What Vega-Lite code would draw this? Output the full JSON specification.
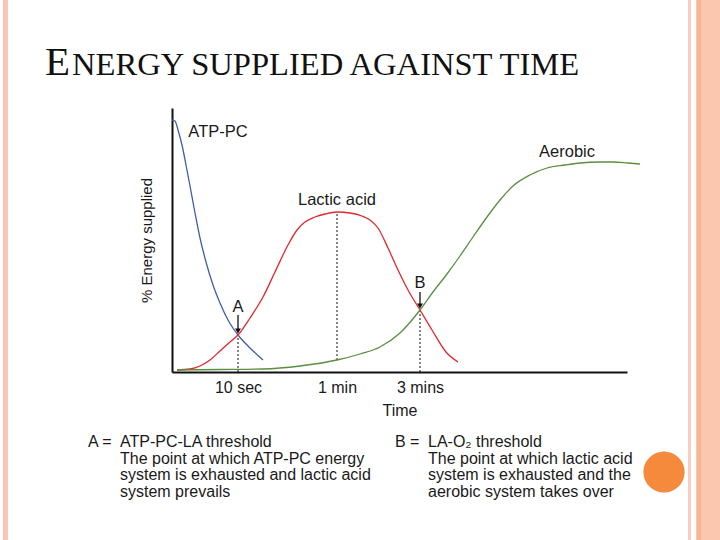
{
  "$schema": "https://vega.github.io/schema/vega-lite/v6.json",
  "description": "Energy supplied against time by the three energy systems.",
  "width": 455,
  "height": 264,
  "autosize": {"type": "none"},
  "padding": {"left": 172, "top": 108, "right": 93, "bottom": 168},
  "background": "white",
  "encoding": {
    "x": {
      "field": "x",
      "type": "quantitative",
      "scale": {"domain": [0, 455], "nice": false, "zero": false},
      "title": "Time",
      "axis": {
        "values": [66, 165, 248],
        "labelExpr": "datum.value == 66 ? '10 sec' : datum.value == 165 ? '1 min' : '3 mins'",
        "labelPadding": 7,
        "titlePadding": 7
      }
    },
    "y": {
      "field": "y",
      "type": "quantitative",
      "scale": {"domain": [0, 264], "nice": false, "zero": false},
      "title": "% Energy supplied",
      "axis": {"labels": false, "titlePadding": 18, "titleFontSize": 15}
    }
  },
  "layer": [
    {
      "data": {"values": [{"x": -169, "x2": -164, "y": -168, "y2": 372}]},
      "mark": {"type": "rect", "color": "#f7c6b8"},
      "encoding": {"x2": {"field": "x2"}, "y2": {"field": "y2"}}
    },
    {
      "data": {"values": [{"x": 516, "x2": 519, "y": -168, "y2": 372}]},
      "mark": {"type": "rect", "color": "#f9cdc0"},
      "encoding": {"x2": {"field": "x2"}, "y2": {"field": "y2"}}
    },
    {
      "data": {"values": [{"x": 524, "x2": 548, "y": -168, "y2": 372}]},
      "mark": {"type": "rect", "color": "#fbc7ae"},
      "encoding": {"x2": {"field": "x2"}, "y2": {"field": "y2"}}
    },
    {
      "data": {"values": [{"x": 525, "x2": 529, "y": -168, "y2": 372}]},
      "mark": {"type": "rect", "color": "#f6b595"},
      "encoding": {"x2": {"field": "x2"}, "y2": {"field": "y2"}}
    },
    {
      "data": {"values": [{"x": 492, "y": -100}]},
      "mark": {"type": "point", "shape": "circle", "filled": true, "size": 1700, "color": "#f58a3d", "opacity": 1}
    },
    {
      "data": {
        "values": [
          {"x": 66, "y": 0, "y2": 37},
          {"x": 165, "y": 12, "y2": 160},
          {"x": 248, "y": 0, "y2": 62}
        ]
      },
      "mark": {"type": "rule", "color": "#111", "strokeWidth": 1, "strokeDash": [2, 2]},
      "encoding": {"y2": {"field": "y2"}}
    },
    {
      "data": {
        "values": [
          {"series": "ATP-PC", "x": 0, "y": 252},
          {"series": "ATP-PC", "x": 3, "y": 251},
          {"series": "ATP-PC", "x": 6, "y": 242},
          {"series": "ATP-PC", "x": 10, "y": 227},
          {"series": "ATP-PC", "x": 14, "y": 207},
          {"series": "ATP-PC", "x": 18, "y": 186},
          {"series": "ATP-PC", "x": 23, "y": 159},
          {"series": "ATP-PC", "x": 28, "y": 134},
          {"series": "ATP-PC", "x": 34, "y": 110},
          {"series": "ATP-PC", "x": 41, "y": 87},
          {"series": "ATP-PC", "x": 48, "y": 69},
          {"series": "ATP-PC", "x": 56, "y": 52},
          {"series": "ATP-PC", "x": 66, "y": 37},
          {"series": "ATP-PC", "x": 78, "y": 24},
          {"series": "ATP-PC", "x": 91, "y": 12},
          {"series": "Lactic acid", "x": 5, "y": 2},
          {"series": "Lactic acid", "x": 18, "y": 3},
          {"series": "Lactic acid", "x": 28, "y": 6},
          {"series": "Lactic acid", "x": 38, "y": 12},
          {"series": "Lactic acid", "x": 48, "y": 21},
          {"series": "Lactic acid", "x": 58, "y": 30},
          {"series": "Lactic acid", "x": 66, "y": 37},
          {"series": "Lactic acid", "x": 78, "y": 54},
          {"series": "Lactic acid", "x": 91, "y": 75},
          {"series": "Lactic acid", "x": 103, "y": 100},
          {"series": "Lactic acid", "x": 116, "y": 127},
          {"series": "Lactic acid", "x": 125, "y": 142},
          {"series": "Lactic acid", "x": 133, "y": 150},
          {"series": "Lactic acid", "x": 143, "y": 155},
          {"series": "Lactic acid", "x": 153, "y": 158},
          {"series": "Lactic acid", "x": 165, "y": 160},
          {"series": "Lactic acid", "x": 178, "y": 159},
          {"series": "Lactic acid", "x": 190, "y": 156},
          {"series": "Lactic acid", "x": 198, "y": 152},
          {"series": "Lactic acid", "x": 206, "y": 144},
          {"series": "Lactic acid", "x": 216, "y": 124},
          {"series": "Lactic acid", "x": 226, "y": 102},
          {"series": "Lactic acid", "x": 236, "y": 82},
          {"series": "Lactic acid", "x": 248, "y": 62},
          {"series": "Lactic acid", "x": 260, "y": 42},
          {"series": "Lactic acid", "x": 274, "y": 20},
          {"series": "Lactic acid", "x": 286, "y": 10},
          {"series": "Aerobic", "x": 5, "y": 2},
          {"series": "Aerobic", "x": 48, "y": 2.5},
          {"series": "Aerobic", "x": 91, "y": 3},
          {"series": "Aerobic", "x": 128, "y": 6},
          {"series": "Aerobic", "x": 165, "y": 12},
          {"series": "Aerobic", "x": 188, "y": 18},
          {"series": "Aerobic", "x": 208, "y": 25},
          {"series": "Aerobic", "x": 228, "y": 39},
          {"series": "Aerobic", "x": 248, "y": 62},
          {"series": "Aerobic", "x": 261, "y": 80},
          {"series": "Aerobic", "x": 275, "y": 98},
          {"series": "Aerobic", "x": 288, "y": 116},
          {"series": "Aerobic", "x": 301, "y": 135},
          {"series": "Aerobic", "x": 315, "y": 155},
          {"series": "Aerobic", "x": 328, "y": 172},
          {"series": "Aerobic", "x": 341, "y": 186},
          {"series": "Aerobic", "x": 358, "y": 197},
          {"series": "Aerobic", "x": 375, "y": 204},
          {"series": "Aerobic", "x": 393, "y": 207},
          {"series": "Aerobic", "x": 408, "y": 209},
          {"series": "Aerobic", "x": 428, "y": 210},
          {"series": "Aerobic", "x": 441, "y": 210},
          {"series": "Aerobic", "x": 456, "y": 209},
          {"series": "Aerobic", "x": 468, "y": 208}
        ]
      },
      "mark": {"type": "line", "interpolate": "monotone", "strokeWidth": 1.3},
      "encoding": {
        "color": {
          "field": "series",
          "type": "nominal",
          "scale": {"domain": ["ATP-PC", "Lactic acid", "Aerobic"], "range": ["#3f5fa8", "#e0282e", "#5b8e3e"]},
          "legend": null
        }
      }
    },
    {
      "data": {"values": [{"x": 66, "y": 57, "y2": 42}, {"x": 248, "y": 80, "y2": 67}]},
      "mark": {"type": "rule", "color": "#111", "strokeWidth": 1.3},
      "encoding": {"y2": {"field": "y2"}}
    },
    {
      "data": {"values": [{"x": 66, "y": 41}, {"x": 248, "y": 66}]},
      "mark": {"type": "point", "shape": "triangle-down", "filled": true, "size": 35, "color": "#111", "opacity": 1}
    },
    {
      "data": {
        "values": [
          {"x": 46, "y": 235, "label": "ATP-PC"},
          {"x": 165, "y": 167, "label": "Lactic acid"},
          {"x": 395, "y": 215, "label": "Aerobic"},
          {"x": 66, "y": 60, "label": "A"},
          {"x": 248, "y": 84, "label": "B"}
        ]
      },
      "mark": {"type": "text", "font": "Liberation Sans", "fontSize": 16.5, "color": "#1a1a1a", "align": "center", "baseline": "alphabetic"},
      "encoding": {"text": {"field": "label"}}
    },
    {
      "data": {"values": [{"x": -127, "y": 297, "label": "E"}]},
      "mark": {"type": "text", "font": "Liberation Serif", "fontSize": 41, "color": "#111", "align": "left", "baseline": "alphabetic"},
      "encoding": {"text": {"field": "label"}}
    },
    {
      "data": {"values": [{"x": -100, "y": 297, "label": "NERGY SUPPLIED AGAINST TIME"}]},
      "mark": {"type": "text", "font": "Liberation Serif", "fontSize": 32.6, "color": "#111", "align": "left", "baseline": "alphabetic"},
      "encoding": {"text": {"field": "label"}}
    },
    {
      "data": {
        "values": [
          {"x": -84, "y": -75, "label": "A ="},
          {"x": -52, "y": -75, "label": "ATP-PC-LA threshold\nThe point at which ATP-PC energy\nsystem is exhausted and lactic acid\nsystem prevails"},
          {"x": 223, "y": -75, "label": "B ="},
          {"x": 256, "y": -75, "label": "LA-O₂ threshold\nThe point at which lactic acid\nsystem is exhausted and the\naerobic system takes over"}
        ]
      },
      "mark": {"type": "text", "font": "Liberation Sans", "fontSize": 16, "lineHeight": 16.5, "lineBreak": "\n", "color": "#1a1a1a", "align": "left", "baseline": "alphabetic"},
      "encoding": {"text": {"field": "label"}}
    }
  ],
  "config": {
    "view": {"stroke": null},
    "axis": {
      "domainColor": "#111",
      "domainWidth": 2,
      "ticks": false,
      "grid": false,
      "labelFont": "Liberation Sans",
      "labelFontSize": 16,
      "labelColor": "#1a1a1a",
      "titleFont": "Liberation Sans",
      "titleFontSize": 16,
      "titleFontWeight": "normal",
      "titleColor": "#1a1a1a"
    }
  }
}
